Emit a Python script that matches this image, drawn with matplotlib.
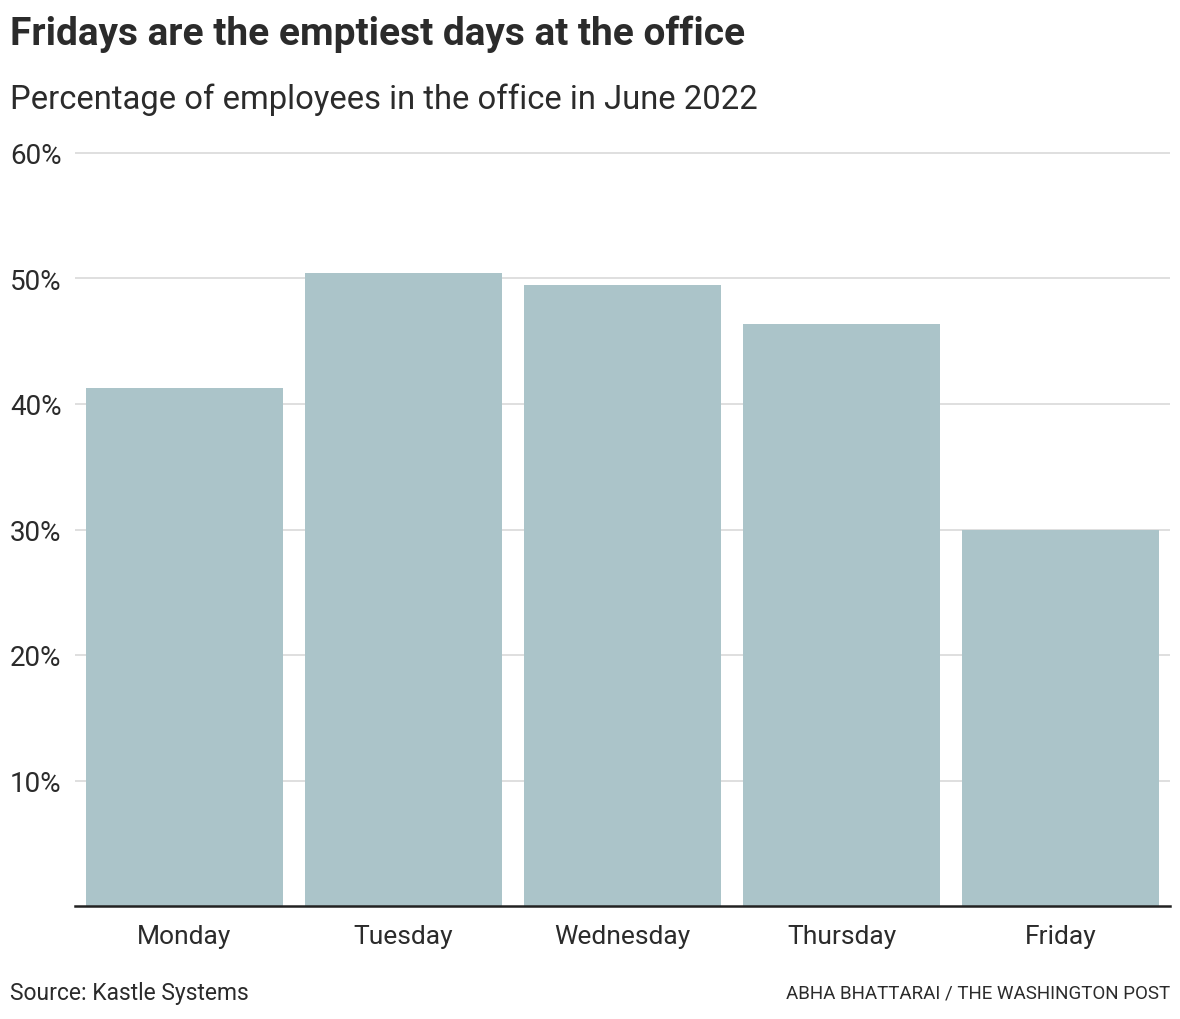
import matplotlib.pyplot as plt

days = ['Monday', 'Tuesday', 'Wednesday', 'Thursday', 'Friday']
share = [41.3, 50.4, 49.5, 46.4, 30.0]      # % of employees in the office
yticks = [10, 20, 30, 40, 50, 60]
ytick_labels = ['10%', '20%', '30%', '40%', '50%', '60%']

plt.rcParams['font.family'] = ['Roboto', 'DejaVu Sans']
text_col = '#2b2b2b'

fig = plt.figure(figsize=(11.8, 10.2), dpi=100)
W, H = 1180, 1020
# axes from x=75..1170 px, y=0 at 907 px, 12.55 px per percent
ymax = 61
top_px = 907 - ymax * 12.55
ax = fig.add_axes([75 / W, 1 - 907 / H, 1095 / W, (907 - top_px) / H])

ax.bar(range(len(days)), share, width=0.9, color='#abc4c9', zorder=2)
ax.set_xlim(-0.5, len(days) - 0.5)
ax.set_ylim(0, ymax)

ax.set_yticks(yticks)
ax.set_yticklabels(ytick_labels, ha='left')
ax.tick_params(axis='y', length=0, pad=65 / (100 / 72), labelsize=20, labelcolor=text_col)
ax.set_xticks(range(len(days)))
ax.set_xticklabels(days)
ax.tick_params(axis='x', length=0, pad=13, labelsize=19, labelcolor=text_col)

ax.grid(axis='y', color='#dcdcdc', linewidth=1.3, zorder=0)
ax.set_axisbelow(True)
for s in ['top', 'right', 'left']:
    ax.spines[s].set_visible(False)
ax.spines['bottom'].set_color('#222222')
ax.spines['bottom'].set_linewidth(1.8)
ax.spines['bottom'].set_zorder(3)

fig.text(10 / W, 1 - 34 / H, 'Fridays are the emptiest days at the office',
         fontsize=28, fontweight='bold', color=text_col, va='center', ha='left')
fig.text(10 / W, 1 - 100 / H, 'Percentage of employees in the office in June 2022',
         fontsize=23.6, color=text_col, va='center', ha='left')
fig.text(10 / W, 1 - 994 / H, 'Source: Kastle Systems',
         fontsize=16.5, color=text_col, va='center', ha='left')
fig.text(1170 / W, 1 - 994 / H, 'ABHA BHATTARAI / THE WASHINGTON POST',
         fontsize=13.5, color=text_col, va='center', ha='right')

fig.savefig('out.png', dpi=100)
